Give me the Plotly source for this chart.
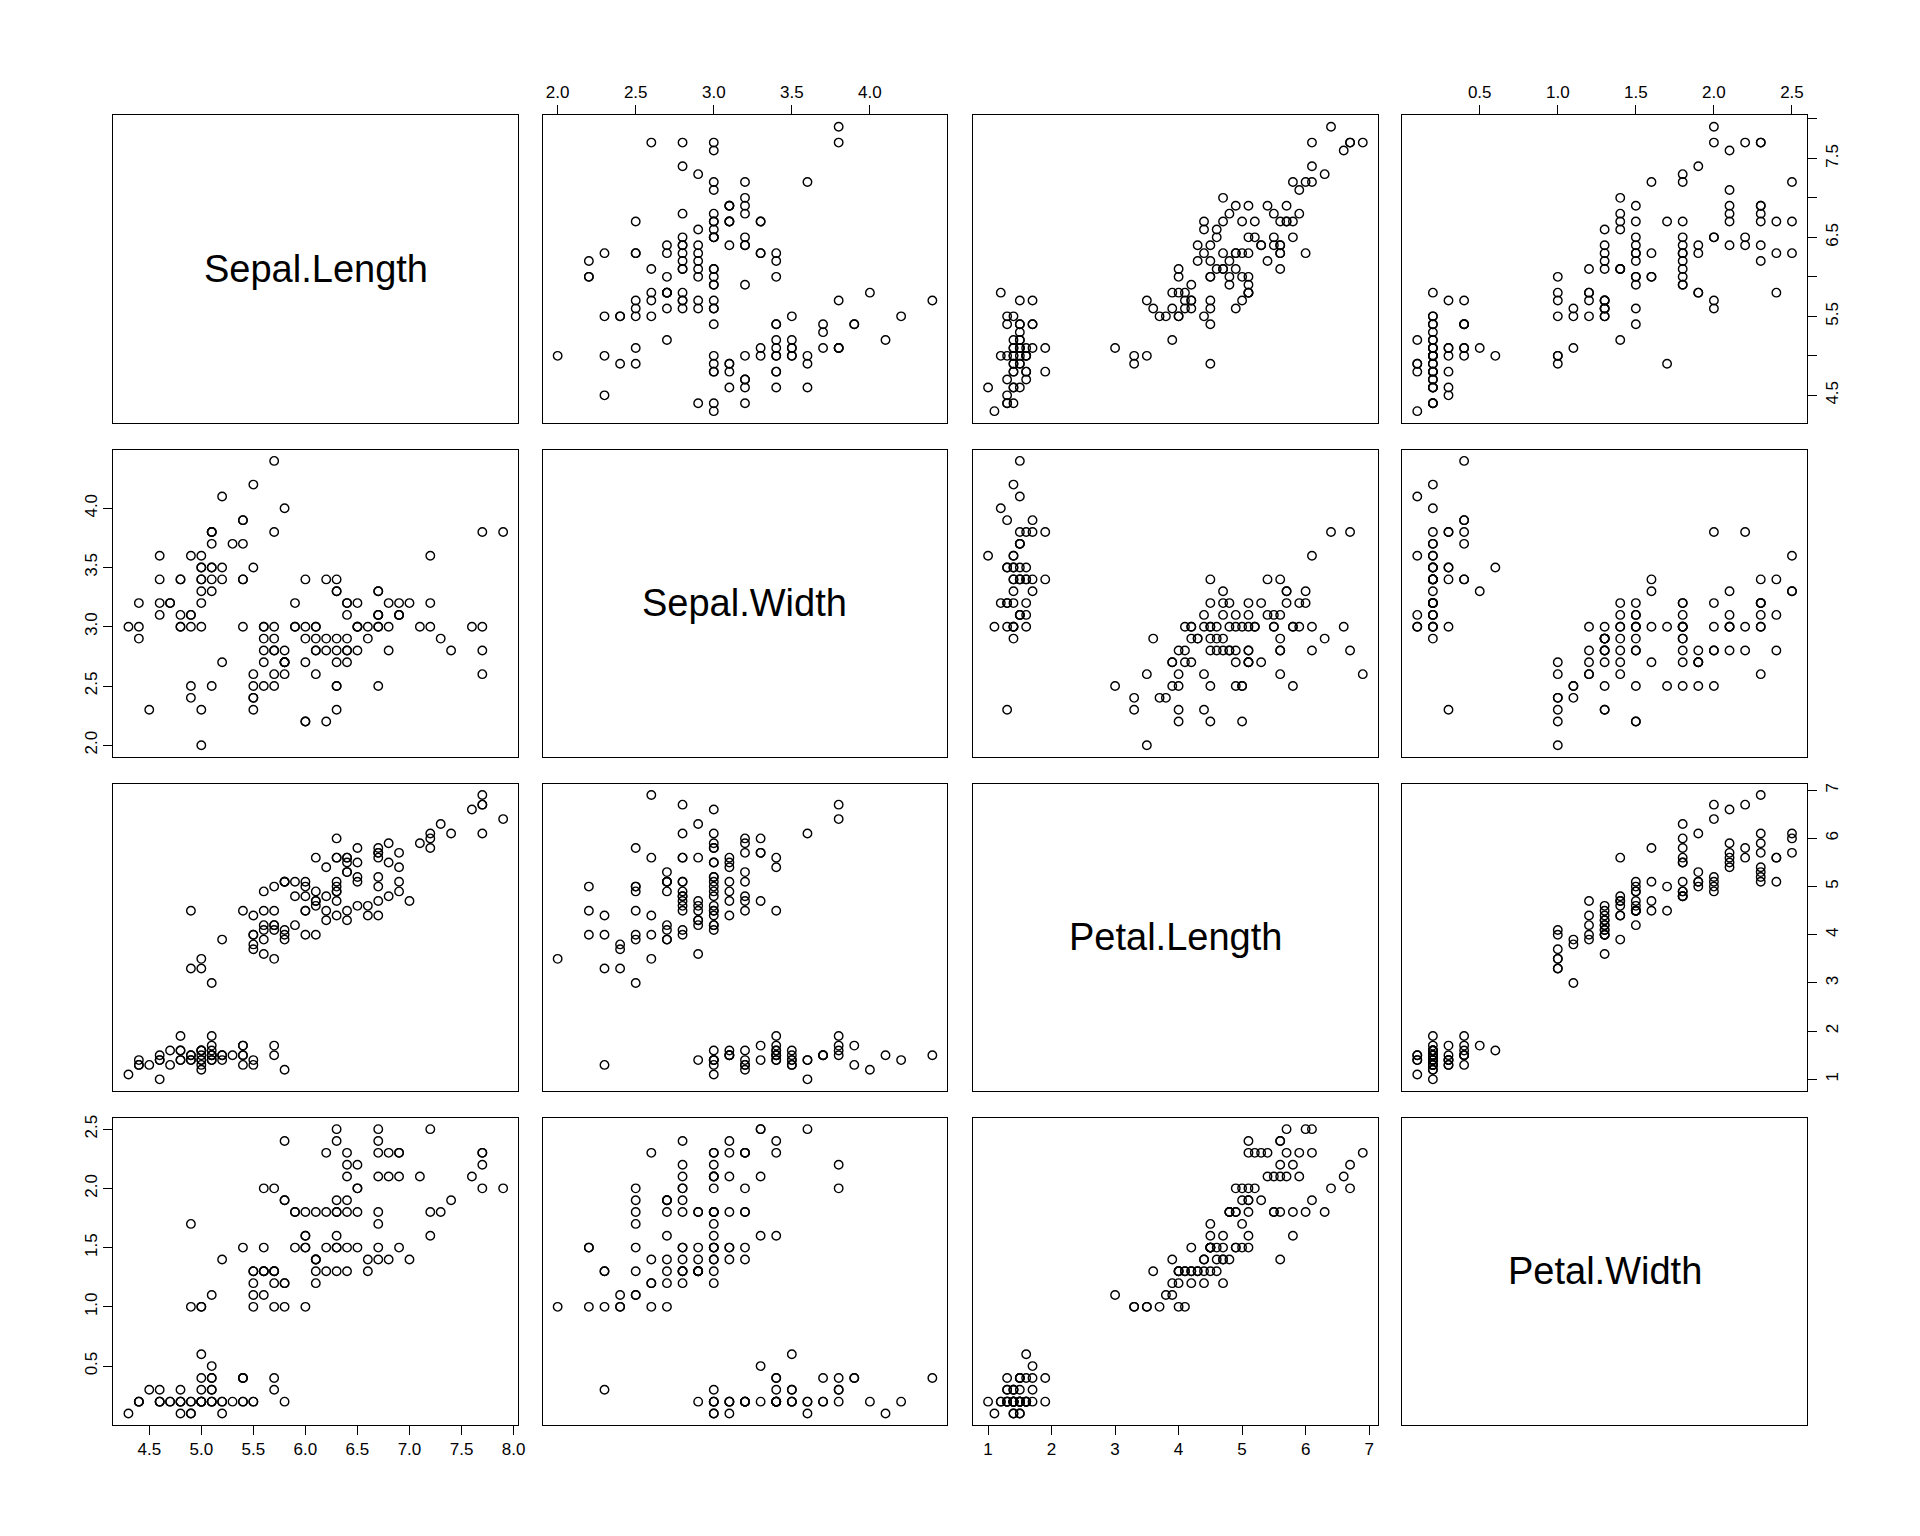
import plotly.graph_objects as go

sepal_length = [5.1,4.9,4.7,4.6,5.0,5.4,4.6,5.0,4.4,4.9,5.4,4.8,4.8,4.3,5.8,5.7,5.4,5.1,5.7,5.1,5.4,5.1,4.6,5.1,4.8,5.0,5.0,5.2,5.2,4.7,4.8,5.4,5.2,5.5,4.9,5.0,5.5,4.9,4.4,5.1,5.0,4.5,4.4,5.0,5.1,4.8,5.1,4.6,5.3,5.0,
7.0,6.4,6.9,5.5,6.5,5.7,6.3,4.9,6.6,5.2,5.0,5.9,6.0,6.1,5.6,6.7,5.6,5.8,6.2,5.6,5.9,6.1,6.3,6.1,6.4,6.6,6.8,6.7,6.0,5.7,5.5,5.5,5.8,6.0,5.4,6.0,6.7,6.3,5.6,5.5,5.5,6.1,5.8,5.0,5.6,5.7,5.7,6.2,5.1,5.7,
6.3,5.8,7.1,6.3,6.5,7.6,4.9,7.3,6.7,7.2,6.5,6.4,6.8,5.7,5.8,6.4,6.5,7.7,7.7,6.0,6.9,5.6,7.7,6.3,6.7,7.2,6.2,6.1,6.4,7.2,7.4,7.9,6.4,6.3,6.1,7.7,6.3,6.4,6.0,6.9,6.7,6.9,5.8,6.8,6.7,6.7,6.3,6.5,6.2,5.9]
sepal_width = [3.5,3.0,3.2,3.1,3.6,3.9,3.4,3.4,2.9,3.1,3.7,3.4,3.0,3.0,4.0,4.4,3.9,3.5,3.8,3.8,3.4,3.7,3.6,3.3,3.4,3.0,3.4,3.5,3.4,3.2,3.1,3.4,4.1,4.2,3.1,3.2,3.5,3.6,3.0,3.4,3.5,2.3,3.2,3.5,3.8,3.0,3.8,3.2,3.7,3.3,
3.2,3.2,3.1,2.3,2.8,2.8,3.3,2.4,2.9,2.7,2.0,3.0,2.2,2.9,2.9,3.1,3.0,2.7,2.2,2.5,3.2,2.8,2.5,2.8,2.9,3.0,2.8,3.0,2.9,2.6,2.4,2.4,2.7,2.7,3.0,3.4,3.1,2.3,3.0,2.5,2.6,3.0,2.6,2.3,2.7,3.0,2.9,2.9,2.5,2.8,
3.3,2.7,3.0,2.9,3.0,3.0,2.5,2.9,2.5,3.6,3.2,2.7,3.0,2.5,2.8,3.2,3.0,3.8,2.6,2.2,3.2,2.8,2.8,2.7,3.3,3.2,2.8,3.0,2.8,3.0,2.8,3.8,2.8,2.8,2.6,3.0,3.4,3.1,3.0,3.1,3.1,3.1,2.7,3.2,3.3,3.0,2.5,3.0,3.4,3.0]
petal_length = [1.4,1.4,1.3,1.5,1.4,1.7,1.4,1.5,1.4,1.5,1.5,1.6,1.4,1.1,1.2,1.5,1.3,1.4,1.7,1.5,1.7,1.5,1.0,1.7,1.9,1.6,1.6,1.5,1.4,1.6,1.6,1.5,1.5,1.4,1.5,1.2,1.3,1.4,1.3,1.5,1.3,1.3,1.3,1.6,1.9,1.4,1.6,1.4,1.5,1.4,
4.7,4.5,4.9,4.0,4.6,4.5,4.7,3.3,4.6,3.9,3.5,4.2,4.0,4.7,3.6,4.4,4.5,4.1,4.5,3.9,4.8,4.0,4.9,4.7,4.3,4.4,4.8,5.0,4.5,3.5,3.8,3.7,3.9,5.1,4.5,4.5,4.7,4.4,4.1,4.0,4.4,4.6,4.0,3.3,4.2,4.2,4.2,4.3,3.0,4.1,
6.0,5.1,5.9,5.6,5.8,6.6,4.5,6.3,5.8,6.1,5.1,5.3,5.5,5.0,5.1,5.3,5.5,6.7,6.9,5.0,5.7,4.9,6.7,4.9,5.7,6.0,4.8,4.9,5.6,5.8,6.1,6.4,5.6,5.1,5.6,6.1,5.6,5.5,4.8,5.4,5.6,5.1,5.1,5.9,5.7,5.2,5.0,5.2,5.4,5.1]
petal_width = [0.2,0.2,0.2,0.2,0.2,0.4,0.3,0.2,0.2,0.1,0.2,0.2,0.1,0.1,0.2,0.4,0.4,0.3,0.3,0.3,0.2,0.4,0.2,0.5,0.2,0.2,0.4,0.2,0.2,0.2,0.2,0.4,0.1,0.2,0.2,0.2,0.2,0.1,0.2,0.2,0.3,0.3,0.2,0.6,0.4,0.3,0.2,0.2,0.2,0.2,
1.4,1.5,1.5,1.3,1.5,1.3,1.6,1.0,1.3,1.4,1.0,1.5,1.0,1.4,1.3,1.4,1.5,1.0,1.5,1.1,1.8,1.3,1.5,1.2,1.3,1.4,1.4,1.7,1.5,1.0,1.1,1.0,1.2,1.6,1.5,1.6,1.5,1.3,1.3,1.3,1.2,1.4,1.2,1.0,1.3,1.2,1.3,1.3,1.1,1.3,
2.5,1.9,2.1,1.8,2.2,2.1,1.7,1.8,1.8,2.5,2.0,1.9,2.1,2.0,2.4,2.3,1.8,2.2,2.3,1.5,2.3,2.0,2.0,1.8,2.1,1.8,1.8,1.8,2.1,1.6,1.9,2.0,2.2,1.5,1.4,2.3,2.4,1.8,1.8,2.1,2.4,2.3,1.9,2.3,2.5,2.3,1.9,2.0,2.3,1.8]

names = ["Sepal.Length", "Sepal.Width", "Petal.Length", "Petal.Width"]
data = [sepal_length, sepal_width, petal_length, petal_width]
tick_vals = [[4.5,5.0,5.5,6.0,6.5,7.0,7.5,8.0],[2.0,2.5,3.0,3.5,4.0],[1,2,3,4,5,6,7],[0.5,1.0,1.5,2.0,2.5]]
tick_text = [["4.5","5.0","5.5","6.0","6.5","7.0","7.5","8.0"],["2.0","2.5","3.0","3.5","4.0"],["1","2","3","4","5","6","7"],["0.5","1.0","1.5","2.0","2.5"]]
tick_text_right0 = ["4.5","","5.5","","6.5","","7.5",""]

def rng(v):
    lo, hi = min(v), max(v); p = (hi - lo) * 0.04
    return [lo - p, hi + p]

xdom = [(86, 416), (436, 766), (787, 1117), (1137, 1467)]
ydom = [(85, 335), (357, 607), (629, 879), (901, 1151)]
W, H = 1560, 1248
fig = go.Figure()
font = dict(family="Liberation Sans, Arial", size=17, color="black")
for r in range(4):
    for c in range(4):
        k = r * 4 + c + 1
        xa = "x" if k == 1 else f"x{k}"
        ya = "y" if k == 1 else f"y{k}"
        xkey = "xaxis" if k == 1 else f"xaxis{k}"
        ykey = "yaxis" if k == 1 else f"yaxis{k}"
        if r != c:
            fig.add_trace(go.Scatter(x=data[c], y=data[r], mode="markers", xaxis=xa, yaxis=ya,
                                     marker=dict(symbol="circle-open", size=8.5, color="black", line=dict(width=1.4, color="black")),
                                     showlegend=False, hoverinfo="skip"))
        else:
            fig.add_trace(go.Scatter(x=[data[c][0]], y=[data[r][0]], mode="markers", xaxis=xa, yaxis=ya,
                                     marker=dict(opacity=0), showlegend=False, hoverinfo="skip"))
            fig.add_annotation(text=names[r], x=0.5, y=0.5, xref=f"{xa} domain", yref=f"{ya} domain",
                               showarrow=False, font=dict(family="Liberation Sans, Arial", size=38, color="black"))
        xshow = (r == 0 and c % 2 == 1) or (r == 3 and c % 2 == 0)
        yshow = (c == 0 and r % 2 == 1) or (c == 3 and r % 2 == 0)
        xd = xdom[c]; yd = ydom[r]
        xax = dict(domain=[xd[0] / W, xd[1] / W], range=rng(data[c]), anchor=ya,
                   showgrid=False, zeroline=False, showline=True, mirror=True, linecolor="black", linewidth=1.3,
                   side="top" if r == 0 else "bottom",
                   tickvals=tick_vals[c], ticktext=tick_text[c], showticklabels=xshow,
                   ticks="outside" if xshow else "", ticklen=9, tickwidth=1.2, tickcolor="black", tickfont=font)
        ytt = tick_text_right0 if (r == 0 and c == 3) else tick_text[r]
        yax = dict(domain=[1 - yd[1] / H, 1 - yd[0] / H], range=rng(data[r]), anchor=xa,
                   showgrid=False, zeroline=False, showline=True, mirror=True, linecolor="black", linewidth=1.3,
                   side="right" if c == 3 else "left",
                   tickvals=tick_vals[r], ticktext=ytt, showticklabels=yshow, tickangle=-90,
                   ticks="outside" if yshow else "", ticklen=9, tickwidth=1.2, tickcolor="black", tickfont=font)
        if r == c:
            xax.update(showticklabels=False, ticks="")
            yax.update(showticklabels=False, ticks="")
        fig.layout[xkey] = xax
        fig.layout[ykey] = yax

fig.update_layout(width=1920, height=1536, margin=dict(l=0, r=0, t=0, b=0),
                  plot_bgcolor="white", paper_bgcolor="white")
fig.write_html("out.html")
